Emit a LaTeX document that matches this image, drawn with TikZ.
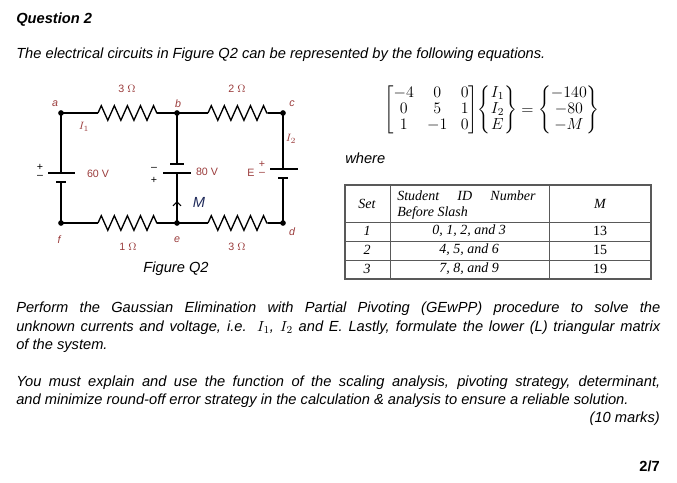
\documentclass[tikz,border=0pt]{standalone}
\usepackage{fontspec}
\usepackage{amsmath}
\setmainfont{Liberation Sans}
\newfontfamily\serifx{Liberation Serif}
\usetikzlibrary{decorations.pathmorphing,arrows.meta}
\definecolor{lab}{HTML}{9A3B3B}
\definecolor{mblue}{HTML}{1F2A5A}
\tikzset{
 wire/.style={line width=1.3pt},
 res/.style={line width=1pt,decorate,decoration={zigzag,segment length=9.8pt,amplitude=5.5pt}},
 dot/.style={circle,fill,inner sep=1.5pt},
 lbl/.style={text=lab,font=\fontsize{8}{9}\selectfont,inner sep=1pt},
 sgn/.style={font=\fontsize{8}{8}\selectfont,inner sep=0pt},
 body/.style={anchor=base west,inner sep=0pt,font=\fontsize{11}{13}\selectfont\itshape},
 tab/.style={font=\serifx\fontsize{10.5}{12}\selectfont,inner sep=0pt}
}
\begin{document}
\begin{tikzpicture}[x=0.75pt,y=-0.75pt]
\useasboundingbox (0,0) rectangle (677,482);
\node[body,font=\fontsize{11}{13}\selectfont\bfseries\itshape] (q) at (16,23) {Question 2};
\node[body] (l0) at (16,58) {The electrical circuits in Figure Q2 can be represented by the following equations.};
% circuit
\coordinate (a) at (61,113); \coordinate (b) at (177,113); \coordinate (c) at (283,113);
\coordinate (d) at (283,223); \coordinate (e) at (177,223); \coordinate (f) at (61,223);
\draw[wire] (a) -- (98,113); \draw[res] (98,113) -- (157,113); \draw[wire] (157,113) -- (b) -- (208,113);
\draw[res] (208,113) -- (268,113); \draw[wire] (268,113) -- (c);
\draw[wire] (f) -- (98,223); \draw[res] (98,223) -- (157,223); \draw[wire] (157,223) -- (e) -- (208,223);
\draw[res] (208,223) -- (268,223); \draw[wire] (268,223) -- (d);
% left battery
\draw[wire] (a) -- (61,173); \draw[wire] (48,173) -- (75,173); \draw[wire] (56,182) -- (66,182); \draw[wire] (61,182) -- (f);
% middle battery
\draw[wire] (b) -- (177,164); \draw[wire] (170,164) -- (184,164); \draw[wire] (163,173) -- (191,173); \draw[wire] (177,173) -- (e);
\draw[-{Straight Barb[length=3pt]},line width=0.8pt] (177,206) -- (177,201);
% right battery
\draw[wire] (c) -- (283,169); \draw[wire] (270,169) -- (298,169); \draw[wire] (278,178) -- (288,178); \draw[wire] (283,178) -- (d);
\foreach \p in {a,b,c,d,e,f} \node[dot] at (\p) {};
\node[lbl] (na) at (55,104) {\itshape a}; \node[lbl] (nb) at (178,104) {\itshape b};
\node[lbl] (nc) at (292,104) {\itshape c}; \node[lbl] (nd) at (292,232) {\itshape d};
\node[lbl] (ne) at (177,240) {\itshape e}; \node[lbl] (nf) at (59,240) {\itshape f};
\node[lbl] (r1) at (127,89) {3 $\Omega$}; \node[lbl] (r2) at (237,89) {2 $\Omega$};
\node[lbl] (r3) at (128,247) {1 $\Omega$}; \node[lbl] (r4) at (237,247) {3 $\Omega$};
\node[lbl] (i1) at (84,127) {$I_1$}; \node[lbl] (i2) at (291,139) {$I_2$};
\node[lbl] (v1) at (98,174) {60 V}; \node[lbl] (v2) at (207,172) {80 V};
\node[lbl] (ve) at (251,173) {E};
\node[sgn,text=lab] at (262,164) {+}; \node[sgn,text=lab] at (262,174) {--};
\node[sgn] at (40,167) {+}; \node[sgn] at (40,177) {--};
\node[sgn] at (154,169) {--}; \node[sgn] at (154,180) {+};
\node[text=mblue,font=\fontsize{11}{12}\selectfont\itshape,inner sep=0pt] (m) at (199,202) {M};
\node[font=\fontsize{11}{12}\selectfont\itshape,inner sep=0pt] (fig) at (176,269) {Figure Q2};
% equation
\node[inner sep=0pt] (eq) at (492,110) {\fontsize{11.6}{12}\selectfont$\begin{bmatrix}-4&0&0\\0&5&1\\1&-1&0\end{bmatrix}\!\begin{Bmatrix}I_1\\I_2\\E\end{Bmatrix}=\begin{Bmatrix}-140\\-80\\-M\end{Bmatrix}$};
\node[body] (wh) at (345,163) {where};
% table
\draw[gray!70!black,line width=0.8pt] (345,185) rectangle (651,279);
\foreach \yy in {222,241,260} \draw[gray!70!black,line width=0.6pt] (345,\yy) -- (651,\yy);
\draw[gray!70!black,line width=0.6pt] (390,185) -- (390,279); \draw[gray!70!black,line width=0.6pt] (549,185) -- (549,279);
\node[tab,font=\serifx\fontsize{10.5}{12}\selectfont\itshape] (h1) at (367,204) {Set};
\node[tab,font=\serifx\fontsize{10.5}{12}\selectfont\itshape,anchor=west] (h2) at (397,196) {Student\hspace{1.3em}ID\hspace{1.3em}Number};
\node[tab,font=\serifx\fontsize{10.5}{12}\selectfont\itshape,anchor=west] (h2b) at (397,213) {Before Slash};
\node[tab,font=\serifx\fontsize{10.5}{12}\selectfont\itshape] (h3) at (600,204) {M};
\node[tab,font=\serifx\fontsize{10.5}{12}\selectfont\itshape] at (367,231) {1};
\node[tab,font=\serifx\fontsize{10.5}{12}\selectfont\itshape] at (367,250) {2};
\node[tab,font=\serifx\fontsize{10.5}{12}\selectfont\itshape] at (367,269) {3};
\node[tab,font=\serifx\fontsize{10.5}{12}\selectfont\itshape] at (469,231) {0, 1, 2, and 3};
\node[tab,font=\serifx\fontsize{10.5}{12}\selectfont\itshape] at (469,250) {4, 5, and 6};
\node[tab,font=\serifx\fontsize{10.5}{12}\selectfont\itshape] at (469,269) {7, 8, and 9};
\node[tab] at (600,231) {13}; \node[tab] at (600,250) {15}; \node[tab] at (600,269) {19};
% paragraphs
\node[body] (p1) at (16,312) {\hbox to 483pt{Perform the Gaussian Elimination with Partial Pivoting (GEwPP) procedure to solve the}};
\node[body] (p2) at (16,331) {\hbox to 483pt{unknown currents and voltage, i.e. $I_1$, $I_2$ and E. Lastly, formulate the lower (L) triangular matrix}};
\node[body] (p3) at (16,349) {of the system.};
\node[body] (p4) at (16,386) {\hbox to 483pt{You must explain and use the function of the scaling analysis, pivoting strategy, determinant,}};
\node[body] (p5) at (16,404) {and minimize round-off error strategy in the calculation \& analysis to ensure a reliable solution.};
\node[body,anchor=base east] (p6) at (660,422) {(10 marks)};
\node[body,anchor=base east,font=\fontsize{11}{13}\selectfont\bfseries] (pg) at (660,471) {2/7};
\end{tikzpicture}
\end{document}
